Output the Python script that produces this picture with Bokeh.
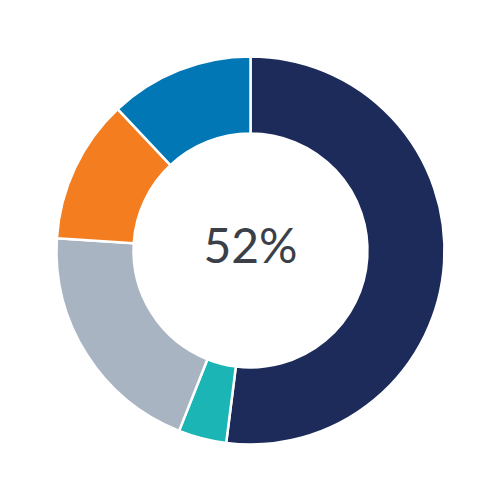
import math
from bokeh.plotting import figure
from bokeh.models import ColumnDataSource, Range1d
from bokeh.core.properties import value
from bokeh.embed import file_html
from bokeh.resources import INLINE

categories = ["A", "B", "C", "D", "E"]
values = [52, 4, 20, 12, 12]
colors = ["#1c2b5a", "#1bb5b5", "#a9b4c3", "#f37d1f", "#0277b5"]
center_label = "52%"

total = sum(values)
starts, ends = [], []
acc = 0.0
for v in values:
    starts.append(math.pi / 2 - 2 * math.pi * acc / total)
    acc += v
    ends.append(math.pi / 2 - 2 * math.pi * acc / total)

src = ColumnDataSource(dict(cat=categories, val=values, color=colors, start=starts, end=ends,
                            x=[0] * len(values), y=[0] * len(values)))

W = 484
p = figure(width=W, height=W, output_backend="svg", toolbar_location=None,
           x_range=Range1d(-250, W - 250), y_range=Range1d(-(W - 250), 250),
           min_border=0)
p.axis.visible = False
p.grid.visible = False
p.outline_line_color = None
p.background_fill_color = "white"
p.border_fill_color = "white"

p.annular_wedge(x="x", y="y", inner_radius=117, outer_radius=194,
                start_angle="start", end_angle="end", direction="clock",
                fill_color="color", line_color="white", line_width=2.5, source=src)

p.text(x=[0], y=[6], text=[center_label], text_align="center", text_baseline="middle",
       text_font=value("Lato"), text_font_size="48px", text_color="#3b3f47")

open("out.html", "w").write(file_html(p, INLINE))
